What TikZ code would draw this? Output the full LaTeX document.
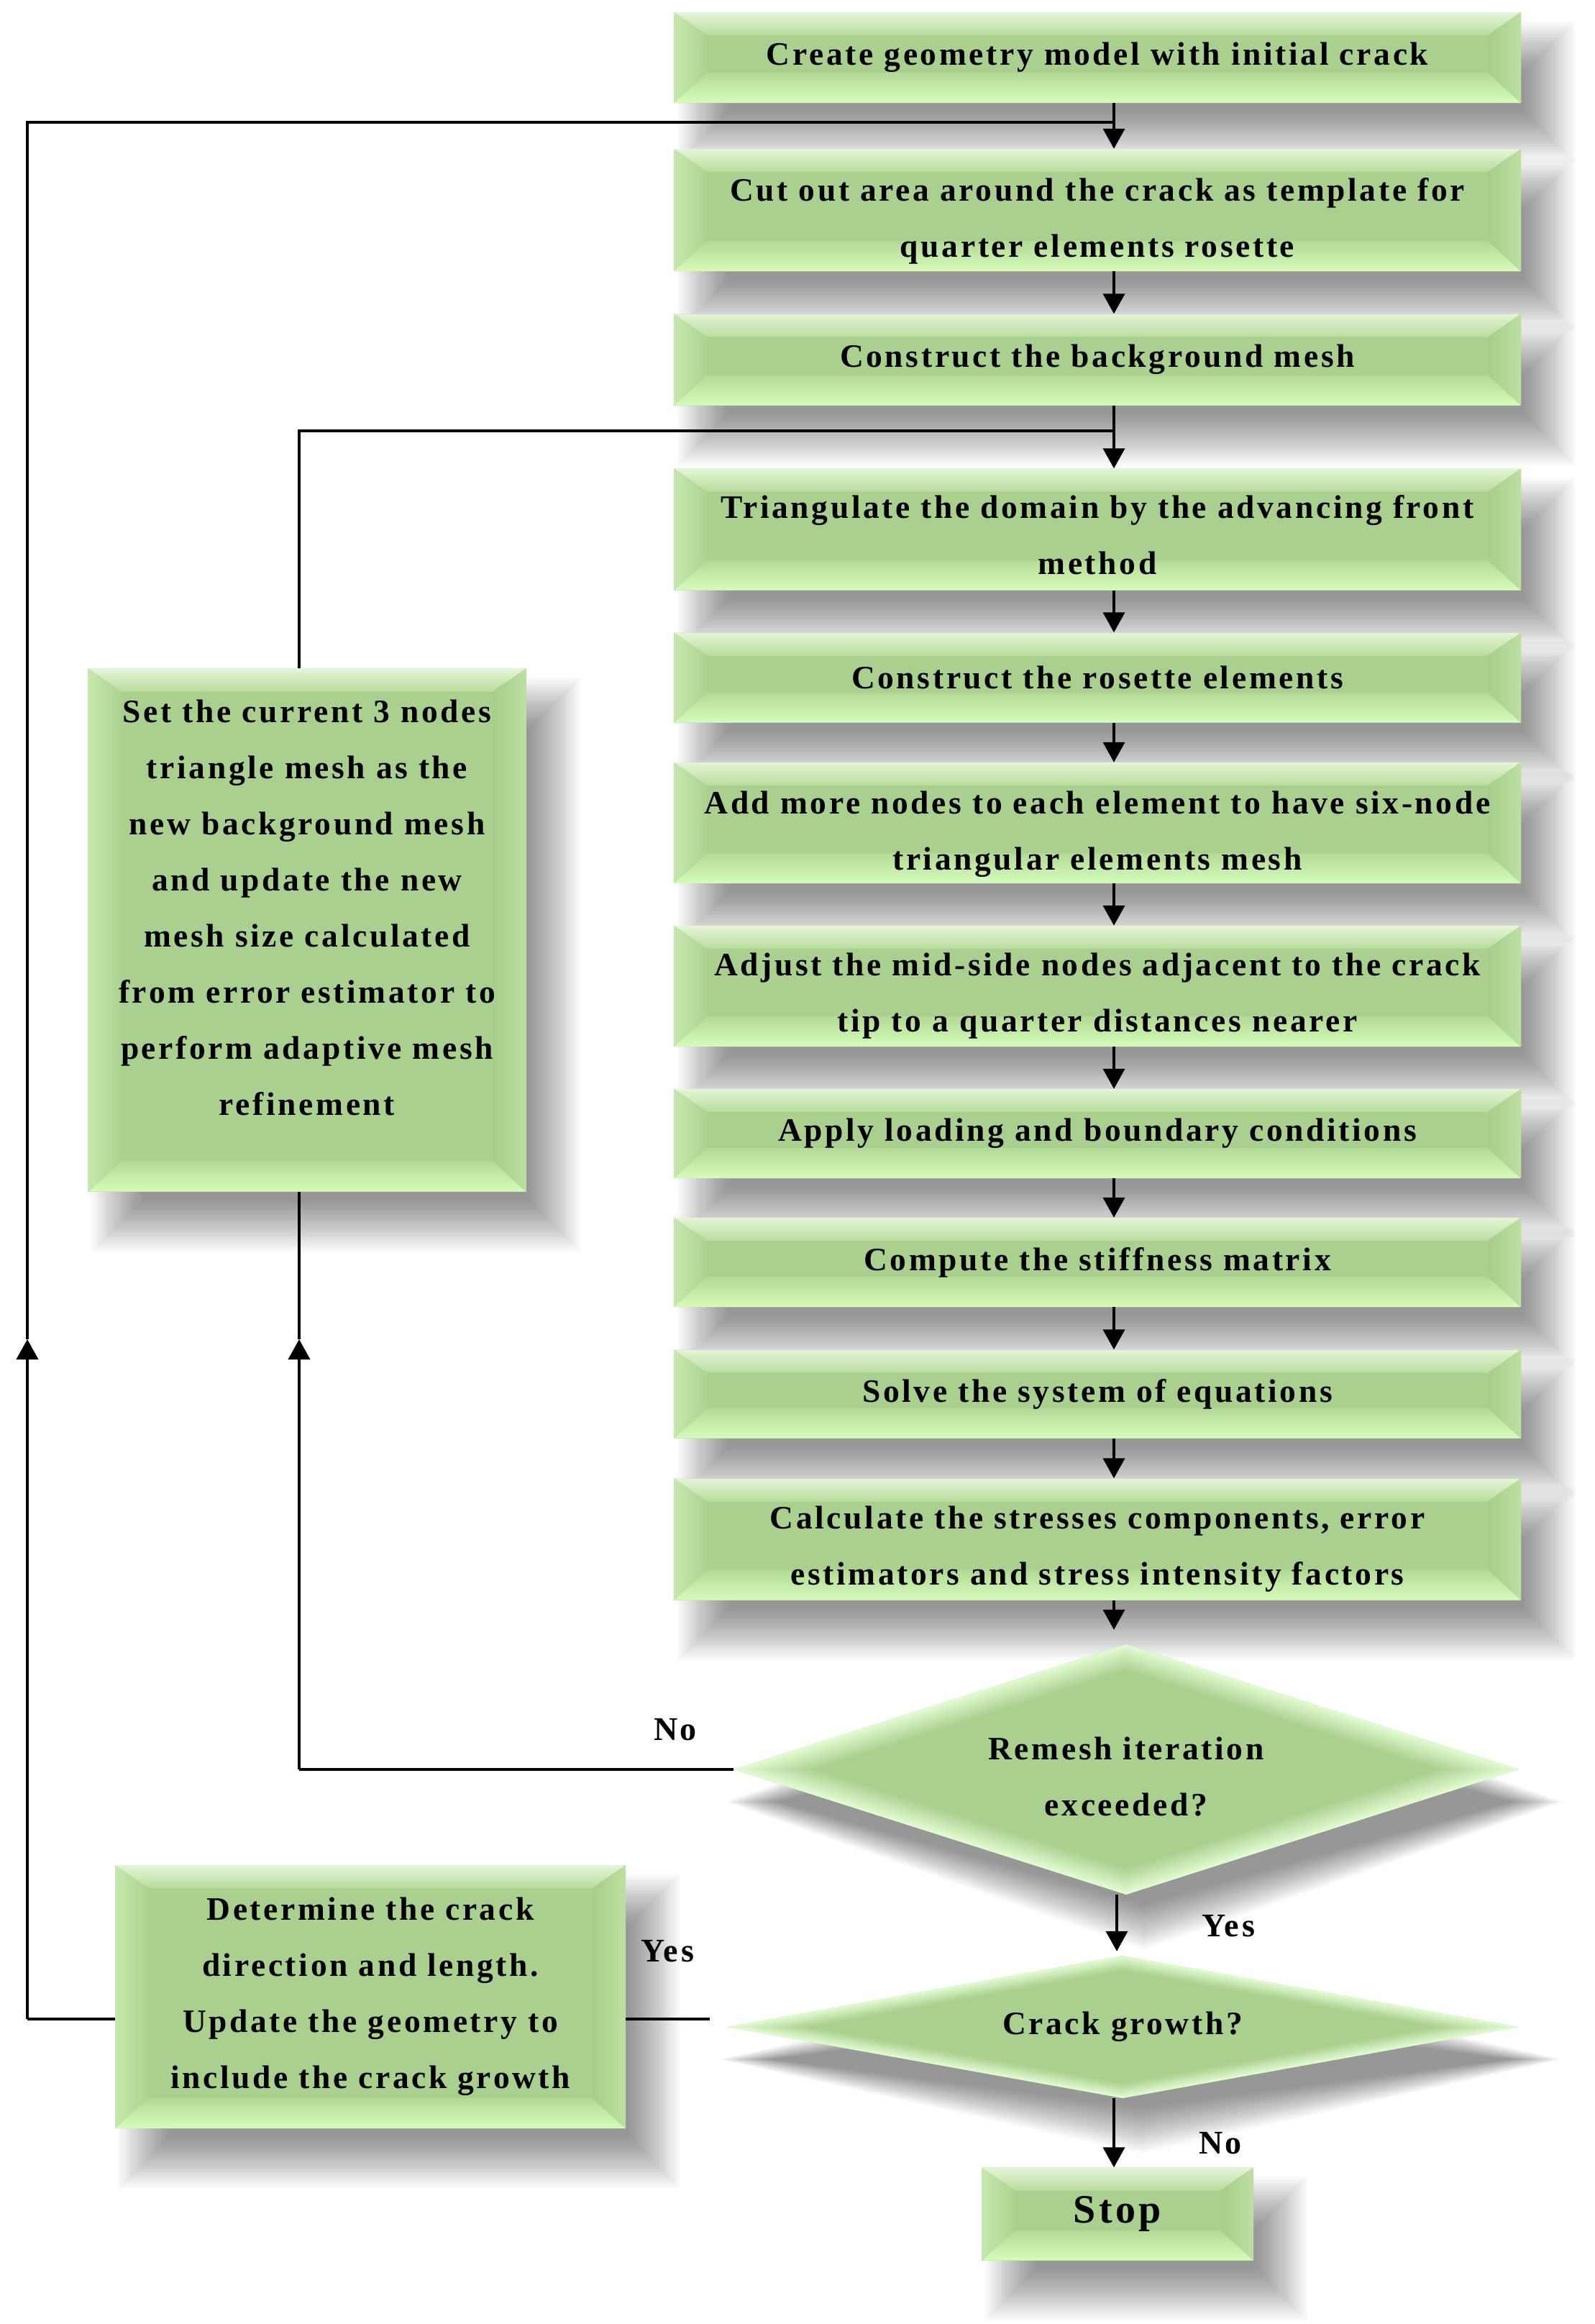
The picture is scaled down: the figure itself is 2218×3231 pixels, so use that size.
\documentclass[tikz,border=0pt]{standalone}
\usepackage{fontspec}
\setmainfont{Liberation Serif}[LetterSpace=8]
\usetikzlibrary{shapes.geometric,arrows.meta,calc}
\definecolor{gmid}{HTML}{A9D08E}
\definecolor{gtopA}{HTML}{E6F4D8}
\definecolor{gtopB}{HTML}{B8DC9E}
\definecolor{gbotA}{HTML}{B3D996}
\definecolor{gbotB}{HTML}{D5FCBB}
\definecolor{gleftA}{HTML}{C6E8AE}
\definecolor{gleftB}{HTML}{ACD391}
\definecolor{grightA}{HTML}{A6CD8B}
\definecolor{grightB}{HTML}{BCE0A2}
\definecolor{dlight}{HTML}{E2FBD2}
\pgfdeclarelayer{bglayer}
\pgfdeclarelayer{shlayer}
\pgfsetlayers{bglayer,shlayer,main}
\newcommand\upstrut[1]{\rule{0pt}{#1}}
\newcommand\dnstrut[1]{\rule[-#1]{0pt}{0pt}}
\tikzset{
  bevbox/.style={rectangle, inner sep=0pt, fill=gmid, align=center,
    font=\bfseries\fontsize{45.5}{78}\selectfont,
    path picture={
      \path (path picture bounding box.north west) coordinate (qa)
            (path picture bounding box.north east) coordinate (qb)
            (path picture bounding box.south east) coordinate (qc)
            (path picture bounding box.south west) coordinate (qd);
      \path ([xshift=46pt,yshift=-32pt]qa) coordinate (ia)
            ([xshift=-46pt,yshift=-32pt]qb) coordinate (ib)
            ([xshift=-46pt,yshift=42pt]qc) coordinate (ic)
            ([xshift=46pt,yshift=42pt]qd) coordinate (id);
      \fill[top color=gtopA,bottom color=gtopB] (qa)--(qb)--(ib)--(ia)--cycle;
      \fill[top color=gbotA,bottom color=gbotB] (qd)--(qc)--(ic)--(id)--cycle;
      \fill[left color=gleftA,right color=gleftB] (qa)--(ia)--(id)--(qd)--cycle;
      \fill[left color=grightA,right color=grightB] (qb)--(ib)--(ic)--(qc)--cycle;
    }},
  decision/.style={diamond, inner sep=0pt, aspect=3, fill=gmid, align=center,
    font=\bfseries\fontsize{45.5}{78}\selectfont,
    path picture={
      \path (path picture bounding box.center) coordinate (dc)
            (path picture bounding box.west) coordinate (dw)
            (path picture bounding box.north) coordinate (dn)
            (path picture bounding box.east) coordinate (de)
            (path picture bounding box.south) coordinate (ds);
      \foreach \ii in {0,...,16}{
        \pgfmathsetmacro\dsc{1-0.013*\ii}
        \pgfmathsetmacro\dmx{100-6.25*\ii}
        \fill[dlight!\dmx!gmid] ($(dc)!\dsc!(dw)$) -- ($(dc)!\dsc!(dn)$) -- ($(dc)!\dsc!(de)$) -- ($(dc)!\dsc!(ds)$) -- cycle;
      }
    }},
  conn/.style={line width=4pt, draw=black},
  arr/.style={conn, -{Triangle[width=30pt,length=28pt]}},
  lbl/.style={font=\bfseries\fontsize{46}{50}\selectfont, inner sep=0pt, anchor=base},
  shfill/.style={fill=black, opacity=0.022},
}
\begin{document}
\begin{tikzpicture}[x=1pt,y=-1pt]
\useasboundingbox (0,0) rectangle (2218,3231);
\begin{pgfonlayer}{bglayer}
\fill[white] (0,0) rectangle (2218,3231);
\end{pgfonlayer}
% main column
\node[bevbox, minimum width=1178pt, minimum height=126pt] (b1) at (1526,80) {Create geometry model with initial crack};
\node[bevbox, minimum width=1178pt, minimum height=170pt] (b2) at (1526,292) {\upstrut{63pt}Cut out area around the crack as template for\\quarter elements rosette};
\node[bevbox, minimum width=1178pt, minimum height=127pt] (b3) at (1526,500) {Construct the background mesh};
\node[bevbox, minimum width=1178pt, minimum height=169pt] (b4) at (1526,736) {\upstrut{47pt}Triangulate the domain by the advancing front\\method};
\node[bevbox, minimum width=1178pt, minimum height=125pt] (b5) at (1526,942) {Construct the rosette elements};
\node[bevbox, minimum width=1178pt, minimum height=168pt] (b6) at (1526,1144) {\upstrut{63pt}Add more nodes to each element to have six-node\\triangular elements mesh};
\node[bevbox, minimum width=1178pt, minimum height=168pt] (b7) at (1526,1371) {\upstrut{59pt}Adjust the mid-side nodes adjacent to the crack\\tip to a quarter distances nearer};
\node[bevbox, minimum width=1178pt, minimum height=124pt] (b8) at (1526,1576) {Apply loading and boundary conditions};
\node[bevbox, minimum width=1178pt, minimum height=124pt] (b9) at (1526,1755) {Compute the stiffness matrix};
\node[bevbox, minimum width=1178pt, minimum height=123pt] (b10) at (1526,1938) {Solve the system of equations};
\node[bevbox, minimum width=1178pt, minimum height=169pt] (b11) at (1526,2140) {\upstrut{59pt}Calculate the stresses components, error\\estimators and stress intensity factors};
% decisions
\node[decision, minimum width=1092pt, minimum height=348pt] (d1) at (1566,2460) {\upstrut{51pt}Remesh iteration\\exceeded?};
\node[decision, minimum width=1100pt, minimum height=198pt] (d2) at (1561,2818) {Crack growth?};
\node[bevbox, minimum width=378pt, minimum height=129pt, font=\bfseries\fontsize{56}{60}\selectfont] (stop) at (1554,3078) {Stop};
% left boxes
\node[bevbox, minimum width=609pt, minimum height=727pt] (set) at (427,1293) {Set the current 3 nodes\\triangle mesh as the\\new background mesh\\and update the new\\mesh size calculated\\from error estimator to\\perform adaptive mesh\\refinement\dnstrut{62pt}};
\node[bevbox, minimum width=710pt, minimum height=366pt] (det) at (515,2776) {Determine the crack\\direction and length.\\Update the geometry to\\include the crack growth};
% shadows
\begin{pgfonlayer}{shlayer}
\foreach \n in {b1,b2,b3,b4,b5,b6,b7,b8,b9,b10,b11,stop,set,det}{
  \foreach \k in {0,...,19}{
    \pgfmathsetmacro\shee{-35+70*\k/19}
    \pgfmathsetmacro\shax{40-\shee}
    \pgfmathsetmacro\shay{-48+\shee}
    \pgfmathsetmacro\shbx{40+\shee}
    \pgfmathsetmacro\shby{-48-\shee}
    \fill[shfill] ([xshift=\shax pt,yshift=\shay pt]\n.north west) rectangle ([xshift=\shbx pt,yshift=\shby pt]\n.south east);
  }
}
\foreach \n in {d1,d2}{
  \foreach \k in {0,...,19}{
    \pgfmathsetmacro\shee{-30+60*\k/19}
    \pgfmathsetmacro\shh{1.2*\shee}
    \pgfmathsetmacro\shv{1.05*\shee}
    \fill[shfill] ([xshift=25pt-\shh pt,yshift=-45pt]\n.west) -- ([xshift=25pt,yshift=-45pt+\shv pt]\n.north)
       -- ([xshift=25pt+\shh pt,yshift=-45pt]\n.east) -- ([xshift=25pt,yshift=-45pt-\shv pt]\n.south) -- cycle;
  }
}
\end{pgfonlayer}
% helper coordinates
\coordinate (ax) at (1549,0);
\coordinate (ax2) at (1553,0);
\coordinate (LX) at (38,0);
\coordinate (RX) at (416,0);
\coordinate (UA) at (0,1862);
\coordinate (CY) at (0,2807);
\coordinate (J1) at (1549,170);
\coordinate (J2) at (1549,599);
% main arrows
\foreach \u/\v in {b1/b2,b2/b3,b3/b4,b4/b5,b5/b6,b6/b7,b7/b8,b8/b9,b9/b10,b10/b11}{
  \draw[arr] (\u.south -| ax) -- (\v.north -| ax);
}
\draw[arr, shorten >=20pt] (b11.south -| ax) -- (d1.north -| ax);
\draw[arr, shorten >=6pt] (d1.south -| ax2) -- (d2.north -| ax2);
\draw[arr] (d2.south -| ax) -- (stop.north -| ax);
% outer loop (crack growth yes)
\draw[conn] (CY -| d2.west) ++(-24pt,0) -- (CY -| det.east);
\draw[conn] (CY -| det.west) -- (CY -| LX);
\draw[arr] (CY -| LX) -- (LX |- UA);
\draw[conn] (LX |- UA) -- (LX |- J1) -- (J1);
% inner loop (remesh no)
\draw[conn] (d1.west) -- (d1.west -| RX);
\draw[arr] (d1.west -| RX) -- (RX |- UA);
\draw[conn] (RX |- UA) -- (RX |- set.south);
\draw[conn] (RX |- set.north) -- (RX |- J2) -- (J2);
% labels
\node[lbl] (no1) at (939,2419) {No};
\node[lbl] (yes1) at (1708,2692) {Yes};
\node[lbl] (yes2) at (928,2727) {Yes};
\node[lbl] (no2) at (1697,2994) {No};
\end{tikzpicture}
\end{document}
